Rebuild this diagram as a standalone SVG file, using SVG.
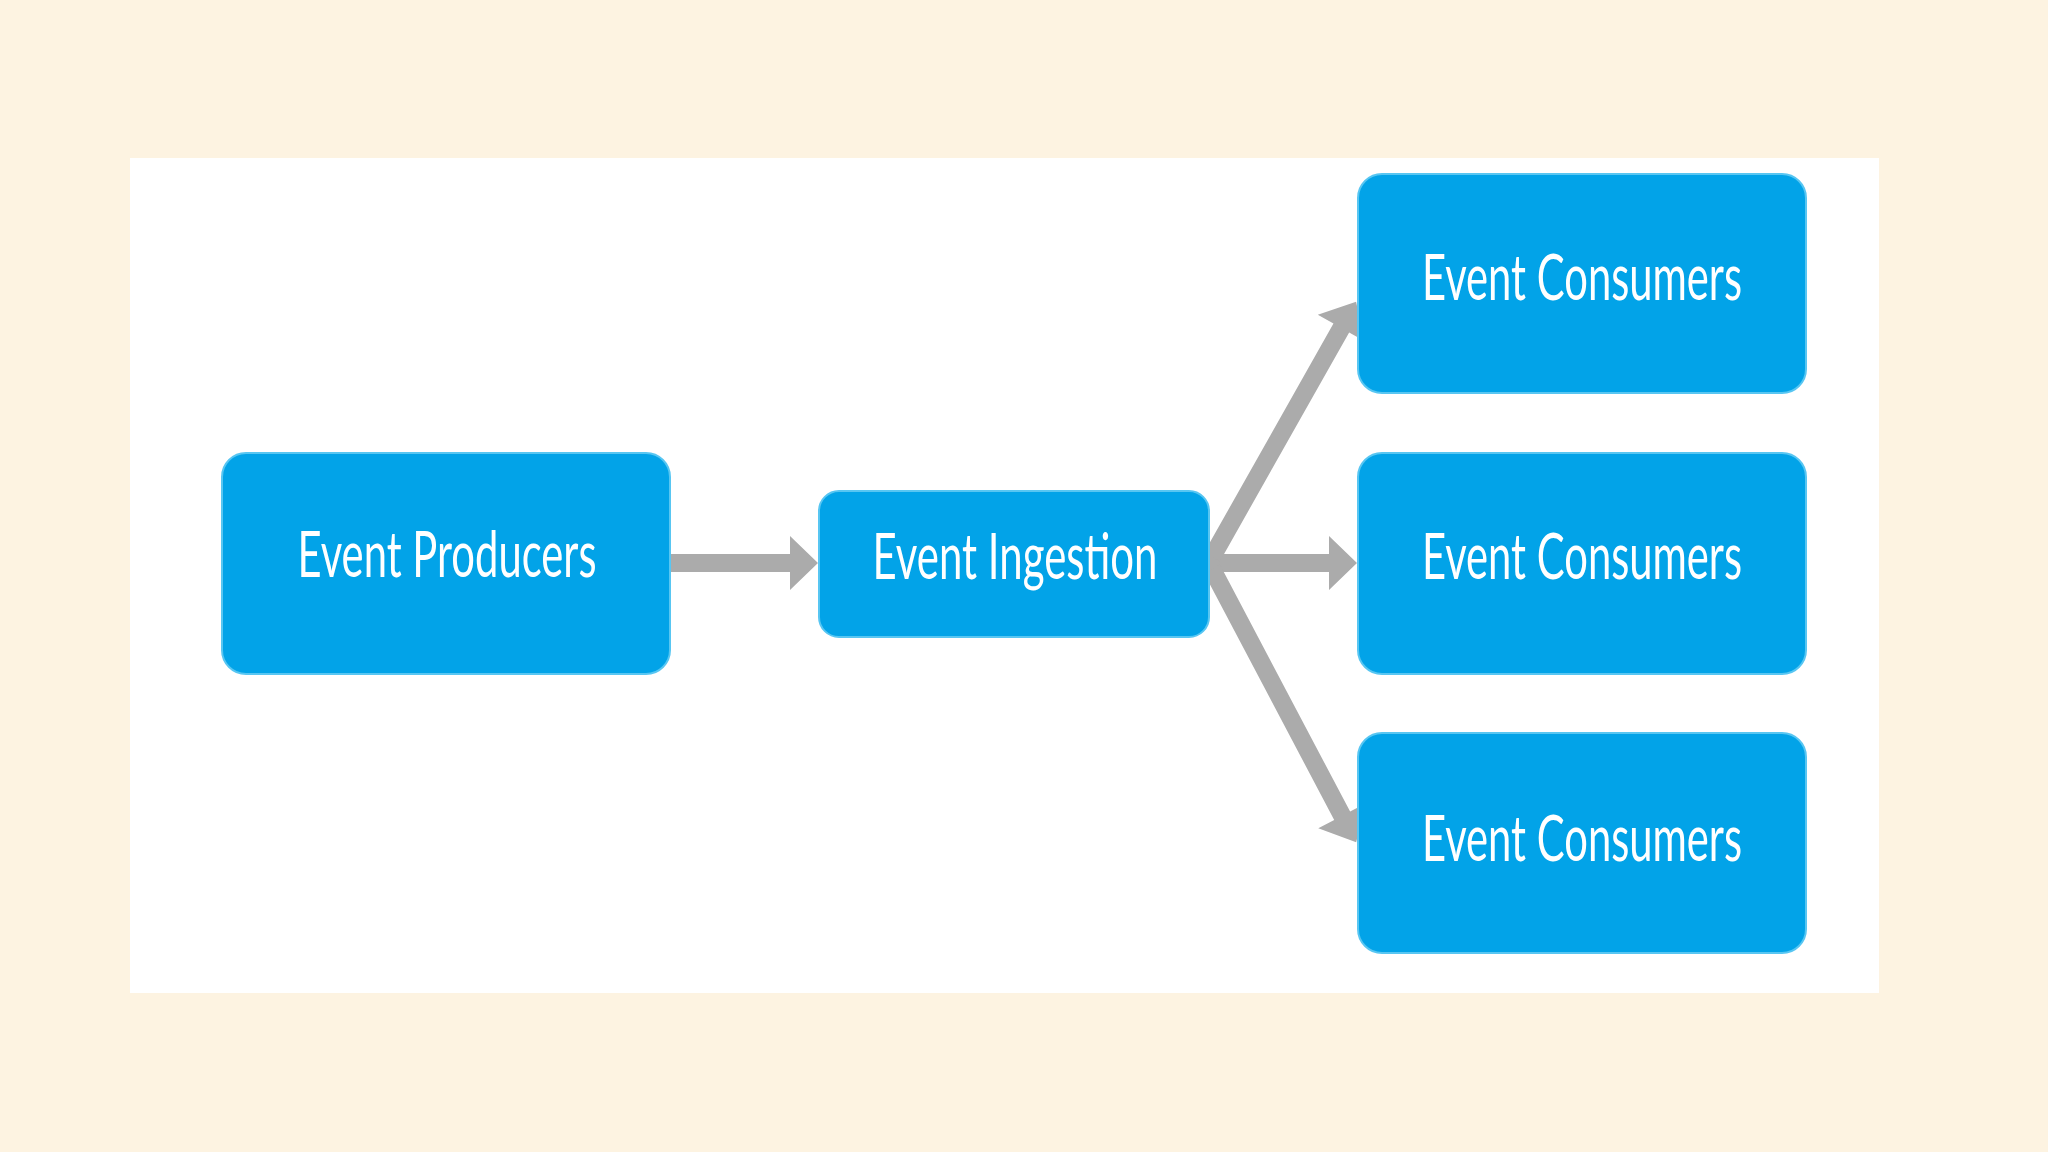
<svg xmlns="http://www.w3.org/2000/svg" width="2048" height="1152" viewBox="0 0 2048 1152">
  <style>
    .box { fill: #02A3E8; stroke: #58C6F2; stroke-width: 2; }
    .lbl { fill: #FFFFFF; font-family: Lato, "Liberation Sans", sans-serif; font-weight: 400; font-size: 64px; text-anchor: middle; }
    .conn { fill: #ABABAB; stroke: none; }
  </style>
  <rect width="2048" height="1152" fill="#FDF3E1"/>
  <rect x="130" y="158" width="1749" height="835" fill="#FFFFFF"/>

  <g id="connectors">
    <path class="conn" d="M670,554 H790 V536 L818,563 L790,590 V572 H670 Z"/>
    <path class="conn" d="M1209,554 H1329 V536 L1357,563 L1329,590 V572 H1209 Z"/>
    <path class="conn" transform="translate(1212,557) rotate(-60.55)" d="M0,-9 H263 V-27 L293,0 L263,27 V9 H0 Z"/>
    <path class="conn" transform="translate(1212,569) rotate(62.19)" d="M0,-9 H279 V-27 L309,0 L279,27 V9 H0 Z"/>
  </g>

  <g id="producers">
    <rect class="box" x="222" y="453" width="448" height="221" rx="24"/>
    <text class="lbl" x="447" y="577" textLength="299" lengthAdjust="spacingAndGlyphs">Event Producers</text>
  </g>
  <g id="ingestion">
    <rect class="box" x="819" y="491" width="390" height="146" rx="20"/>
    <text class="lbl" x="1015" y="579" textLength="285" lengthAdjust="spacingAndGlyphs">Event Ingestion</text>
  </g>
  <g id="consumers1">
    <rect class="box" x="1358" y="174" width="448" height="219" rx="24"/>
    <text class="lbl" x="1582" y="300" textLength="320" lengthAdjust="spacingAndGlyphs">Event Consumers</text>
  </g>
  <g id="consumers2">
    <rect class="box" x="1358" y="453" width="448" height="221" rx="24"/>
    <text class="lbl" x="1582" y="579" textLength="320" lengthAdjust="spacingAndGlyphs">Event Consumers</text>
  </g>
  <g id="consumers3">
    <rect class="box" x="1358" y="733" width="448" height="220" rx="24"/>
    <text class="lbl" x="1582" y="861" textLength="320" lengthAdjust="spacingAndGlyphs">Event Consumers</text>
  </g>
</svg>
